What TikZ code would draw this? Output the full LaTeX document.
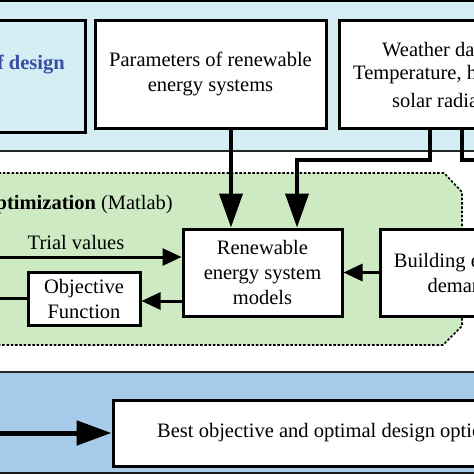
\documentclass[tikz,border=0pt]{standalone}
\usepackage{fontspec}
\setmainfont{Liberation Serif}
\usetikzlibrary{arrows.meta}
\definecolor{bandcyan}{RGB}{212,238,244}
\definecolor{bandgreen}{RGB}{205,234,194}
\definecolor{bandblue}{RGB}{167,203,235}
\definecolor{titleblue}{RGB}{58,78,166}
\begin{document}
\begin{tikzpicture}[x=1pt,y=-1pt,
  txt/.style={font=\fontsize{20.5}{25}\selectfont, align=center, inner sep=0pt},
  box/.style={draw=black, line width=3pt, fill=white, inner sep=0pt, txt},
  conn/.style={line width=4pt, draw=black},
  thinconn/.style={line width=3pt, draw=black},
  bigtip/.style={-{Triangle[length=34pt,width=23pt]}},
  smalltip/.style={-{Triangle[length=19pt,width=17pt]}},
  hugetip/.style={-{Triangle[length=35pt,width=24pt]}},
  band/.style={line width=1.5pt, draw=black!85},
  zone/.style={fill=bandgreen, draw=black, line width=1.6pt, dash pattern=on 2.5pt off 1.8pt}
]
\useasboundingbox (0,0) rectangle (474,474);
\clip (0,0) rectangle (474,474);
% bands
\fill[bandcyan] (-5,0) rectangle (480,151);
\draw[line width=3pt] (-5,0.5) -- (480,0.5);
\draw[band] (-5,151) -- (480,151);
\fill[bandblue] (-5,372) rectangle (480,474);
\draw[band] (-5,372) -- (480,372);
\draw[line width=3pt, draw=black!90] (-5,473.5) -- (480,473.5);
% optimisation zone
\draw[zone] (-10,173) -- (444,173) -- (462,192) -- (462,326) -- (443,345) -- (-10,345) -- cycle;
% boxes
\node[box, fill=bandcyan, minimum width=185pt, minimum height=112pt] (design) at (-7.5,76) {};
\node[txt, anchor=east, font=\fontsize{20.5}{25}\selectfont\bfseries, text=titleblue] (designtxt) at (65,65) {of design};
\node[box, minimum width=231pt, minimum height=108pt] (params) at (210.5,74) {Parameters of renewable\\energy systems};
\node[box, minimum width=212pt, minimum height=108pt] (weather) at (445,74) {};
\node[txt, anchor=west] (w1) at (382,50) {Weather data};
\node[txt, anchor=west] (w2) at (353,75) {Temperature, humidity,};
\node[txt, anchor=west] (w3) at (392,100) {solar radiation};
\node[txt, anchor=east] (opttitle) at (173,205) {\textbf{Optimization} (Matlab)};
\node[box, minimum width=159pt, minimum height=87pt] (renew) at (262.5,272.5) {Renewable\\energy system\\models};
\node[box, minimum width=112pt, minimum height=53pt] (obj) at (84,298.5) {Objective\\Function};
\node[box, minimum width=160pt, minimum height=87pt] (build) at (460,272.5) {Building energy\\demand};
\node[box, minimum width=507pt, minimum height=66pt] (best) at (366.5,433) {};
\node[txt, anchor=west] (besttxt) at (157,433) {Best objective and optimal design options};
\node[txt] (trial) at (76,242) {Trial values};
% connectors
\coordinate (pA) at (231,0);
\coordinate (wA) at (430,0);
\coordinate (wB) at (462,0);
\coordinate (rA) at (297,0);
\coordinate (bendA) at (430,160);
\coordinate (wout) at (480,160);
\coordinate (trialstart) at (-5,257);
\coordinate (ro) at (0,301);
\coordinate (oout) at (-5,298);
\coordinate (bstart) at (-5,433);
\draw[conn, bigtip] (pA |- params.south) -- (pA |- renew.north);
\draw[conn, bigtip] (wA |- weather.south) -- (bendA) -- (rA |- bendA) -- (rA |- renew.north);
\draw[conn] (wB |- weather.south) -- (wB |- wout) -- (wout);
\draw[thinconn, smalltip] (trialstart) -- (trialstart -| renew.west);
\draw[thinconn, smalltip] (ro -| renew.west) -- (ro -| obj.east);
\draw[thinconn] (obj.west |- oout) -- (oout);
\draw[thinconn, smalltip] (build.west) -- (build.west -| renew.east);
\draw[line width=5pt, hugetip] (bstart) -- (best.west);
\end{tikzpicture}
\end{document}
